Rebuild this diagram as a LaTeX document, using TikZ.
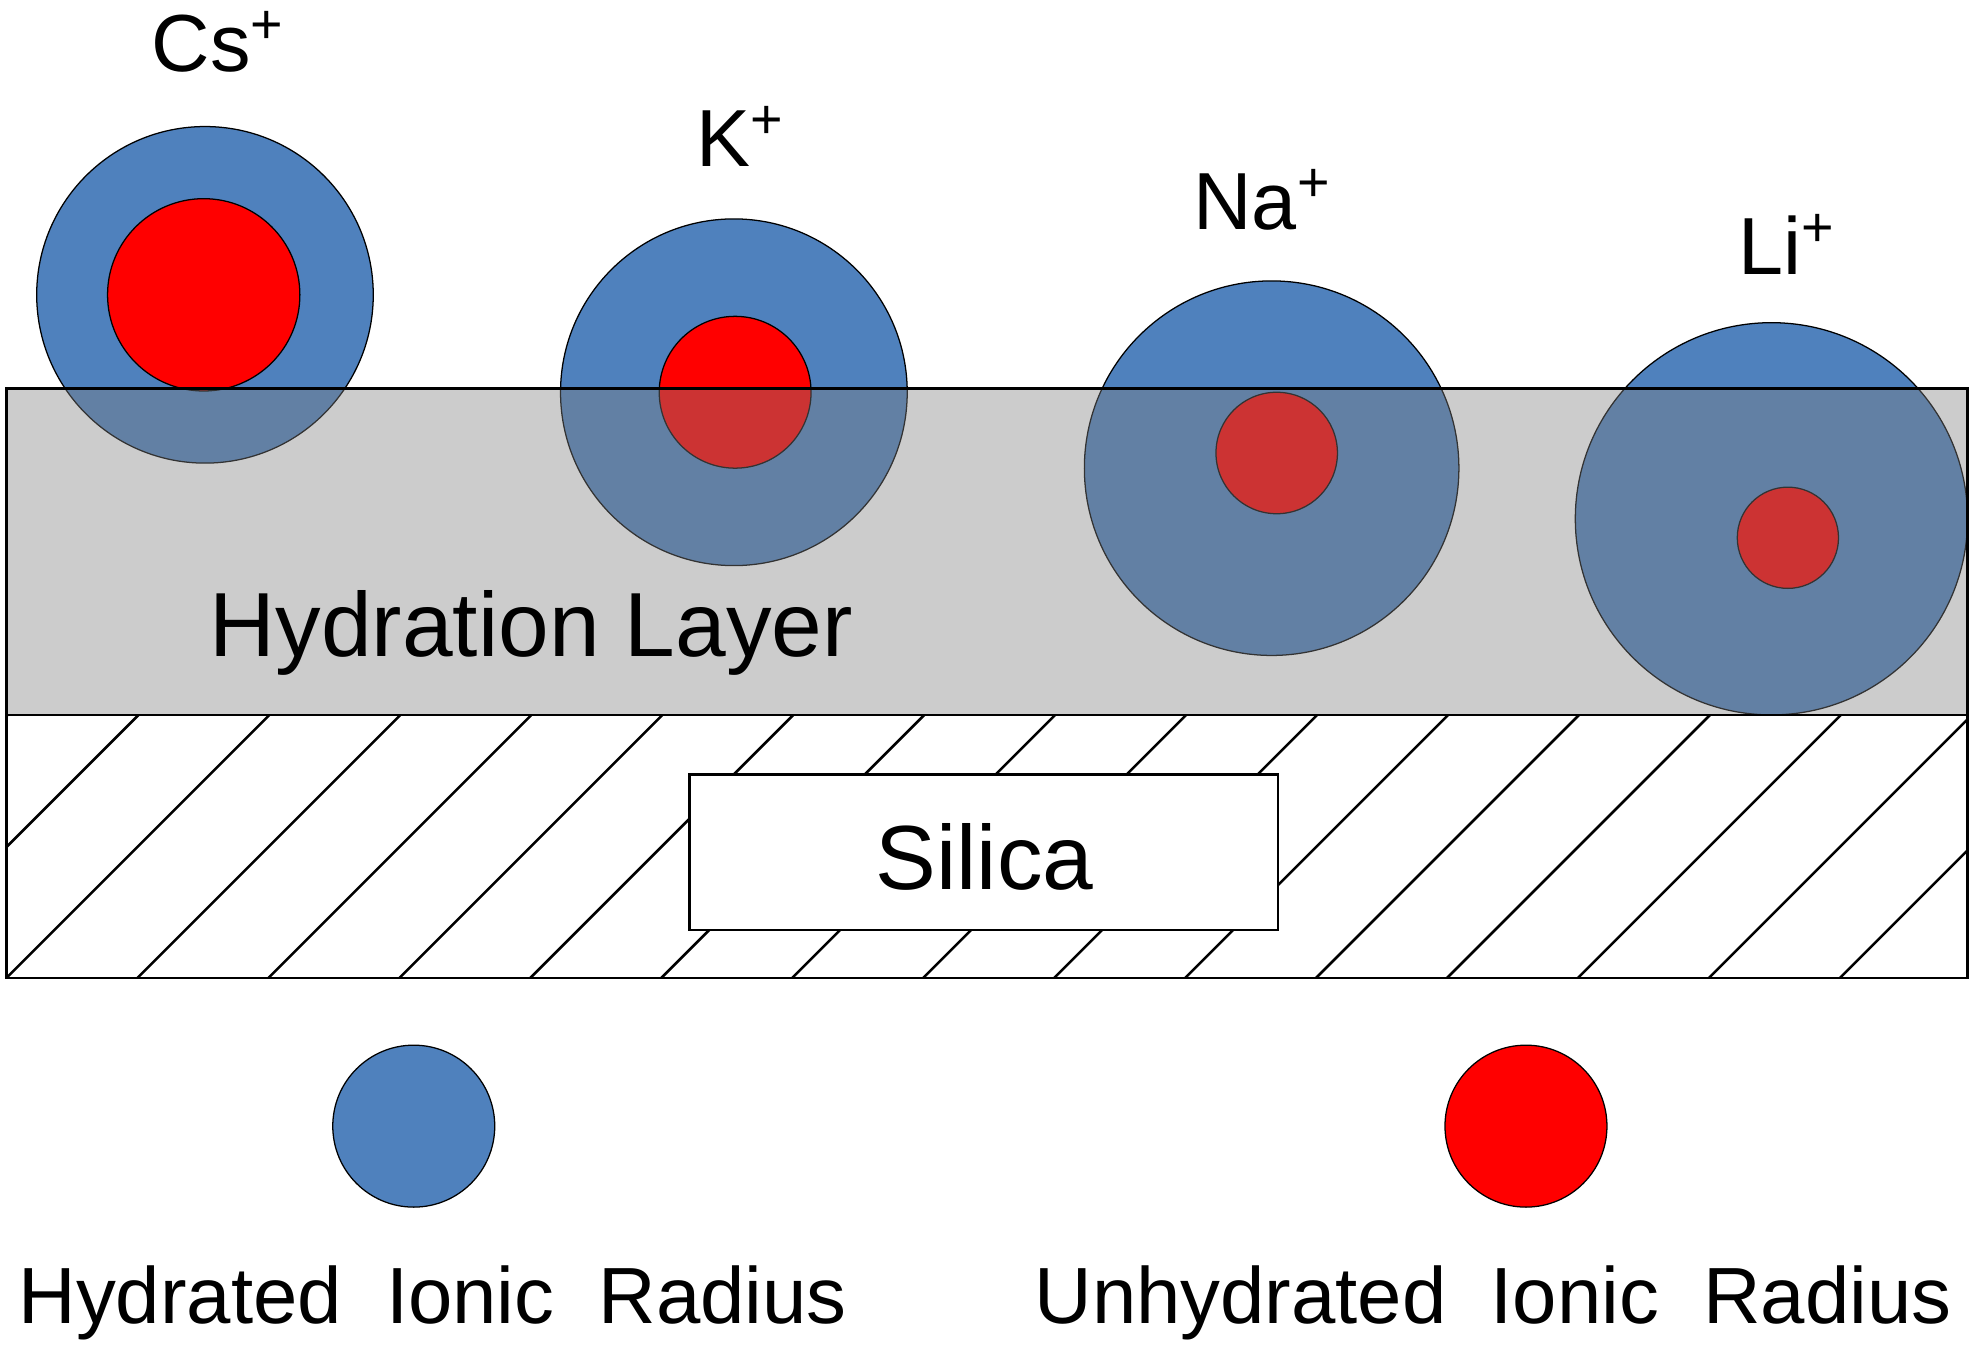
\documentclass[tikz,border=0pt]{standalone}
\usepackage{fontspec}
\setmainfont{Liberation Sans}
\definecolor{hblue}{RGB}{79,129,189}
\newcommand{\plsup}{\raisebox{22pt}{\fontsize{44}{48}\selectfont +}}
\begin{document}
\begin{tikzpicture}[x=1pt,y=-1pt,
  hyd/.style={circle,draw=black,line width=1pt,fill=hblue,inner sep=0pt},
  unh/.style={circle,draw=black,line width=1pt,fill=red,inner sep=0pt},
  lbl/.style={font=\fontsize{64}{70}\selectfont,inner sep=0pt}]
\useasboundingbox (0,0) rectangle (1568,1069);
% hatched substrate
\begin{scope}
\clip (5,565) rectangle (1555,773);
\foreach \i in {-3,...,16} \draw[line width=2pt] ({5+103.5*\i},773) -- ({5+103.5*\i+208},565);
\end{scope}
\draw[line width=2pt] (5,565) rectangle (1555,773);
\node[draw,line width=2pt,fill=white,minimum width=465pt,minimum height=123pt,inner sep=0pt] (silica) at (777.5,673.5) {};
\node[lbl,font=\fontsize{72}{80}\selectfont] (silicat) at (778,677) {Silica};
% ions
\node[hyd,minimum size=266pt] (cso) at (162,233) {};
\node[unh,minimum size=152pt] (csi) at (161,233) {};
\node[hyd,minimum size=274pt] (ko) at (580,310) {};
\node[unh,minimum size=120pt] (ki) at (581,310) {};
\node[hyd,minimum size=296pt] (nao) at (1005,370) {};
\node[unh,minimum size=96pt] (nai) at (1009,358) {};
\node[hyd,minimum size=310pt] (lio) at (1400,410) {};
\node[unh,minimum size=80pt] (lii) at (1413,425) {};
% hydration layer
\node[draw=black,line width=2pt,fill=black!50,fill opacity=0.4,minimum width=1550pt,minimum height=258pt,inner sep=0pt] (layer) at (780,436) {};
\node[lbl,font=\fontsize{72}{80}\selectfont] (layert) at (420,500) {Hydration Layer};
% labels
\node[lbl] (cs) at (172,33) {Cs\plsup};
\node[lbl] (k) at (585,108) {K\plsup};
\node[lbl] (na) at (997,158) {Na\plsup};
\node[lbl] (li) at (1412,193) {Li\plsup};
% legend
\node[hyd,minimum size=128pt] (lb) at (327,890) {};
\node[unh,minimum size=128pt] (lr) at (1206,890) {};
\node[lbl,font=\fontsize{63}{70}\selectfont] (lbt) at (342,1030) {Hydrated\ \ Ionic\ \ Radius};
\node[lbl,font=\fontsize{63}{70}\selectfont] (lrt) at (1180,1030) {Unhydrated\ \ Ionic\ \ Radius};
\end{tikzpicture}
\end{document}
